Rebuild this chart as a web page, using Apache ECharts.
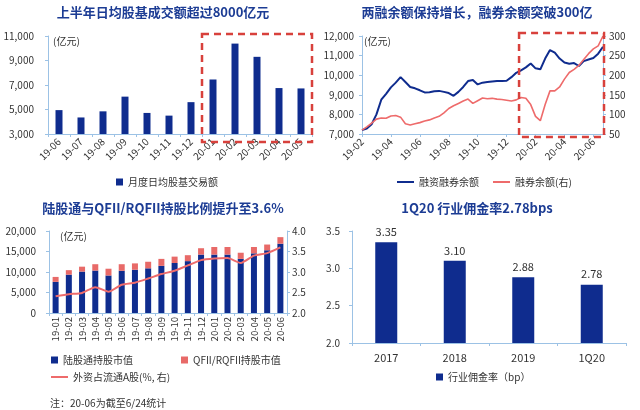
<!DOCTYPE html>
<html>
<head>
<meta charset="utf-8">
<script src="https://cdn.jsdelivr.net/npm/echarts@6/dist/echarts.min.js"></script>
<style>
  html, body { margin: 0; padding: 0; background: #fff; }
  #chart { width: 640px; height: 410px; }
</style>
</head>
<body>
<div id="chart"></div>
<script>
// 月度日均股基成交额
const tradeMonths = ['19-06', '19-07', '19-08', '19-09', '19-10', '19-11', '19-12', '20-01', '20-02', '20-03', '20-04', '20-05']
const tradeValues = [4950, 4350, 4850, 6050, 4720, 4500, 5600, 7450, 10380, 9300, 6750, 6720]

// 两融余额（每旬一个点）
const marginMonths = ['2019-02', '2019-03', '2019-04', '2019-05', '2019-06', '2019-07', '2019-08', '2019-09', '2019-10',
  '2019-11', '2019-12', '2020-01', '2020-02', '2020-03', '2020-04', '2020-05', '2020-06']
const marginDays = ['01', '11', '21']
const marginTotal = [7200, 7280, 7500, 8000, 8750, 9050, 9380, 9620, 9900, 9650, 9400, 9330, 9230, 9120, 9130, 9180,
  9200, 9150, 9090, 8950, 9150, 9400, 9700, 9760, 9530, 9620, 9650, 9680, 9700, 9700, 9720, 9900, 10120, 10250,
  10400, 10600, 10350, 10300, 10850, 11280, 11150, 10850, 10650, 10580, 10620, 10470, 10720, 10800, 10880, 11100, 11450]
const shortBalance = [60, 68, 78, 88, 91, 90, 96, 97, 93, 76, 73, 76, 79, 83, 86, 91, 95, 104, 115, 122, 128, 134,
  139, 128, 135, 142, 140, 141, 139, 138, 136, 134, 137, 143, 141, 125, 95, 84, 125, 160, 160, 170, 190, 207, 215,
  225, 240, 255, 267, 275, 300]

// 外资持股
const holdMonths = ['19-01', '19-02', '19-03', '19-04', '19-05', '19-06', '19-07', '19-08', '19-09', '19-10', '19-11',
  '19-12', '20-01', '20-02', '20-03', '20-04', '20-05', '20-06']
const northboundHold = [7600, 9350, 10100, 10350, 9150, 10300, 10550, 10900, 11500, 12200, 12650, 14250, 14250, 14250,
  13200, 14550, 15300, 16900]
const qfiiHold = [1200, 1100, 1200, 1550, 1650, 1600, 1550, 1600, 1700, 1550, 1450, 1550, 1850, 1850, 1500, 1550, 1400, 1600]
const foreignRatio = [2.41, 2.46, 2.49, 2.63, 2.52, 2.69, 2.74, 2.84, 2.95, 3.03, 3.16, 3.29, 3.33, 3.34, 3.22, 3.40, 3.46, 3.60]

// 行业佣金率
const commissionYears = ['2017', '2018', '2019', '1Q20']
const commissionRates = [3.35, 3.10, 2.88, 2.78]

const marginDates = []
marginMonths.forEach(m => marginDays.forEach(d => marginDates.push(m + '-' + d)))

const FONT = 'Noto Sans CJK SC'
const BLUE = '#0f2c8e'
const RED_LINE = '#ee6b6b'
const RED_BAR = '#e86a68'
const TITLE_BLUE = '#1c3c94'
const AXIS = '#9cc2e5'
const LABEL = '#333'

const fmtThousand = v => v.toLocaleString('en-US')

const valueAxis = (grid, extra, labelExtra) => Object.assign({
  type: 'value',
  gridIndex: grid,
  splitLine: { show: false },
  axisLine: { show: true, lineStyle: { color: AXIS } },
  axisTick: { show: true, length: 3, lineStyle: { color: AXIS } },
  axisLabel: Object.assign({ color: LABEL, fontSize: 10, fontFamily: FONT, formatter: fmtThousand }, labelExtra)
}, extra)

const catAxis = (grid, data, extra) => Object.assign({
  type: 'category',
  gridIndex: grid,
  data: data,
  axisLine: { lineStyle: { color: AXIS } },
  axisTick: { show: true, length: 3, lineStyle: { color: AXIS } },
  axisLabel: { color: LABEL, fontSize: 10, fontFamily: FONT }
}, extra)

const titleOf = (text, x, y) => ({
  text: text,
  left: x,
  top: y,
  textAlign: 'center',
  padding: 0,
  textStyle: { color: TITLE_BLUE, fontSize: 13, fontWeight: 'bold', fontFamily: FONT }
})

const legendText = { color: LABEL, fontSize: 10, fontFamily: FONT }

const chart = echarts.init(document.getElementById('chart'))

const option = {
  backgroundColor: '#fff',
  animation: false,
  title: [
    titleOf('上半年日均股基成交额超过8000亿元', 163, 6),
    titleOf('两融余额保持增长，融券余额突破300亿', 477, 6),
    titleOf('陆股通与QFII/RQFII持股比例提升至3.6%', 163, 202),
    titleOf('1Q20 行业佣金率2.78bps', 477, 202)
  ],
  legend: [
    {
      data: ['月度日均股基交易额'], left: 116, top: 177, padding: 0,
      icon: 'rect', itemWidth: 7, itemHeight: 7, itemGap: 5, textStyle: legendText
    },
    {
      data: ['融资融券余额', '融券余额(右)'], left: 397, top: 177, padding: 0,
      icon: 'rect', itemWidth: 17, itemHeight: 2, itemGap: 14, textStyle: legendText
    },
    {
      data: ['陆股通持股市值', 'QFII/RQFII持股市值'], left: 51, top: 355, padding: 0,
      icon: 'rect', itemWidth: 7, itemHeight: 7, itemGap: 48, textStyle: legendText
    },
    {
      data: ['外资占流通A股(%, 右)'], left: 51, top: 372, padding: 0,
      icon: 'rect', itemWidth: 17, itemHeight: 2, textStyle: legendText
    },
    {
      data: ['行业佣金率（bp）'], left: 436, top: 372, padding: 0,
      icon: 'rect', itemWidth: 7, itemHeight: 7, textStyle: legendText
    }
  ],
  grid: [
    { left: 48, top: 36, width: 264, height: 98 },
    { left: 362, top: 36, width: 241, height: 98 },
    { left: 49, top: 231, width: 238, height: 82 },
    { left: 352, top: 231, width: 274, height: 112 }
  ],
  xAxis: [
    catAxis(0, tradeMonths, {
      axisLabel: { color: LABEL, fontSize: 10, fontFamily: FONT, rotate: 45, margin: 6, interval: 0 }
    }),
    catAxis(1, marginDates, {
      boundaryGap: false,
      axisTick: {
        show: true, length: 3, lineStyle: { color: AXIS },
        interval: (i, v) => v.slice(8) === '01' && Number(v.slice(5, 7)) % 2 === 0
      },
      axisLabel: {
        color: LABEL, fontSize: 10, fontFamily: FONT, rotate: 45, margin: 6,
        interval: (i, v) => v.slice(8) === '01' && Number(v.slice(5, 7)) % 2 === 0,
        formatter: v => v.slice(2, 7)
      }
    }),
    catAxis(2, holdMonths, {
      axisLabel: { color: LABEL, fontSize: 9.5, fontFamily: FONT, rotate: 90, margin: 4, interval: 0 }
    }),
    catAxis(3, commissionYears, {
      axisLabel: { color: LABEL, fontSize: 11, fontFamily: FONT, margin: 9 }
    })
  ],
  yAxis: [
    valueAxis(0, { min: 3000, max: 11000, interval: 2000 }, { margin: 14 }),
    valueAxis(1, { min: 7000, max: 12000, interval: 1000 }, { margin: 8 }),
    valueAxis(1, { min: 50, max: 300, interval: 50, position: 'right' }, { margin: 6, formatter: null }),
    valueAxis(2, { min: 0, max: 20000, interval: 5000 }, { margin: 13 }),
    valueAxis(2, { min: 2, max: 4, interval: 0.5, position: 'right' }, { margin: 5, formatter: v => v.toFixed(1) }),
    valueAxis(3, { min: 2, max: 3.5, interval: 0.5 }, { margin: 12, formatter: v => v.toFixed(1) })
  ],
  series: [
    {
      name: '月度日均股基交易额', type: 'bar', xAxisIndex: 0, yAxisIndex: 0,
      barWidth: 7, itemStyle: { color: BLUE }, data: tradeValues
    },
    {
      name: '融资融券余额', type: 'line', xAxisIndex: 1, yAxisIndex: 1,
      showSymbol: false, lineStyle: { color: BLUE, width: 2 }, itemStyle: { color: BLUE }, data: marginTotal
    },
    {
      name: '融券余额(右)', type: 'line', xAxisIndex: 1, yAxisIndex: 2,
      showSymbol: false, lineStyle: { color: RED_LINE, width: 1.6 }, itemStyle: { color: RED_LINE }, data: shortBalance
    },
    {
      name: '陆股通持股市值', type: 'bar', xAxisIndex: 2, yAxisIndex: 3, stack: 'hold',
      barWidth: 6, itemStyle: { color: BLUE }, data: northboundHold
    },
    {
      name: 'QFII/RQFII持股市值', type: 'bar', xAxisIndex: 2, yAxisIndex: 3, stack: 'hold',
      barWidth: 6, itemStyle: { color: RED_BAR }, data: qfiiHold
    },
    {
      name: '外资占流通A股(%, 右)', type: 'line', xAxisIndex: 2, yAxisIndex: 4,
      showSymbol: false, smooth: 0.2, lineStyle: { color: RED_LINE, width: 2 }, itemStyle: { color: RED_LINE },
      data: foreignRatio
    },
    {
      name: '行业佣金率（bp）', type: 'bar', xAxisIndex: 3, yAxisIndex: 5,
      barWidth: 22, itemStyle: { color: BLUE }, data: commissionRates,
      label: {
        show: true, position: 'top', distance: 5, color: LABEL, fontSize: 11, fontFamily: FONT,
        formatter: p => p.value.toFixed(2)
      }
    }
  ]
}

chart.setOption(option)

// 红色虚线框：按坐标轴换算位置
const px = (axis, v) => chart.convertToPixel({ xAxisIndex: axis }, v)
const band = px(0, tradeMonths[1]) - px(0, tradeMonths[0])
const box1Left = px(0, '20-01') - band / 2
const box1Right = 48 + 264
const box2Left = px(1, '2020-01-01') - 2
const box2Right = 362 + 241

const dashed = { fill: 'none', stroke: '#d8413c', lineWidth: 2.5, lineDash: [7, 5] }
const unitText = (x, y) => ({
  type: 'text', left: x, top: y,
  style: { text: '(亿元)', fill: LABEL, fontSize: 10, fontFamily: FONT }
})

chart.setOption({
  graphic: [
    { type: 'rect', shape: { x: box1Left, y: 34, width: box1Right - box1Left, height: 108 }, style: dashed, z: 100 },
    { type: 'rect', shape: { x: box2Left, y: 33, width: box2Right - box2Left + 1, height: 104 }, style: dashed, z: 100 },
    unitText(53, 36),
    unitText(364, 36),
    unitText(60, 231),
    {
      type: 'text', left: 50, top: 398,
      style: { text: '注：20-06为截至6/24统计', fill: LABEL, fontSize: 10, fontFamily: FONT }
    }
  ]
})
</script>
</body>
</html>
